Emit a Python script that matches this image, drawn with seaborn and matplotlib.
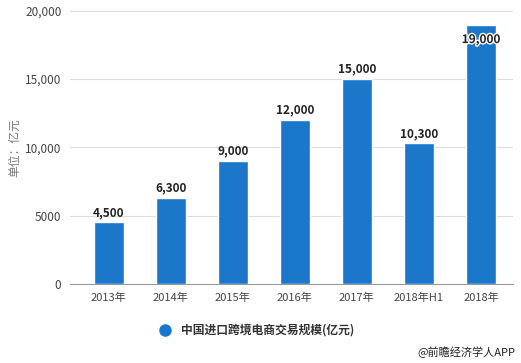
import matplotlib
matplotlib.use("Agg")
import matplotlib.pyplot as plt
import seaborn as sns
import pandas as pd
from matplotlib.lines import Line2D
import matplotlib.patheffects as pe

# Chart data
years = ["2013年", "2014年", "2015年", "2016年", "2017年", "2018年H1", "2018年"]
values = [4500, 6300, 9000, 12000, 15000, 10300, 19000]
value_labels = ["4,500", "6,300", "9,000", "12,000", "15,000", "10,300", "19,000"]
y_ticks = [0, 5000, 10000, 15000, 20000]
y_tick_labels = ["0", "5000", "10,000", "15,000", "20,000"]
series_name = "中国进口跨境电商交易规模(亿元)"

sns.set_style("white")
plt.rcParams["font.family"] = ["Noto Sans CJK SC", "DejaVu Sans"]

bar_color = "#1a77c9"
df = pd.DataFrame({"year": years, "value": values})

fig = plt.figure(figsize=(5.21, 3.63), dpi=100)
ax = fig.add_axes([0.134, 0.218, 0.851, 0.752])

sns.barplot(data=df, x="year", y="value", color=bar_color, width=0.49,
            saturation=1, ax=ax, zorder=3)

ax.set_ylim(0, 20000)
ax.set_xlim(-0.63, 6.52)
ax.set_yticks(y_ticks)
ax.set_yticklabels(y_tick_labels, fontsize=8.5, color="#444444")
ax.tick_params(axis="y", length=0, pad=6)
ax.tick_params(axis="x", length=4, color="#999999", labelsize=8, labelcolor="#444444", pad=2)
for sp in ["top", "right", "left"]:
    ax.spines[sp].set_visible(False)
ax.spines["bottom"].set_color("#999999")
ax.yaxis.grid(True, color="#dddddd", linewidth=0.8, zorder=0)
ax.set_xlabel("")
ax.set_ylabel("单位：亿元", fontsize=8.5, color="#777777", labelpad=3)

# value labels
for i, (v, lab) in enumerate(zip(values, value_labels)):
    if v >= 19000:
        ax.text(i, v - 1100, lab, ha="center", va="center", fontsize=8.5,
                fontweight="bold", color="#222222", zorder=5,
                path_effects=[pe.withStroke(linewidth=2, foreground="white")])
    else:
        ax.text(i, v + 250, lab, ha="center", va="bottom", fontsize=8.5,
                fontweight="bold", color="#222222", zorder=5)

# legend
handle = Line2D([], [], marker="o", linestyle="", markersize=8,
                markerfacecolor=bar_color, markeredgecolor=bar_color)
fig.legend([handle], [series_name], loc="center", bbox_to_anchor=(0.487, 0.09),
           frameon=False, prop={"size": 8.5, "weight": "bold"},
           labelcolor="#333333", handletextpad=0.4)

fig.text(0.99, 0.03, "@前瞻经济学人APP", ha="right", va="center",
         fontsize=8, color="#222222")

fig.savefig("out.png", dpi=100)
